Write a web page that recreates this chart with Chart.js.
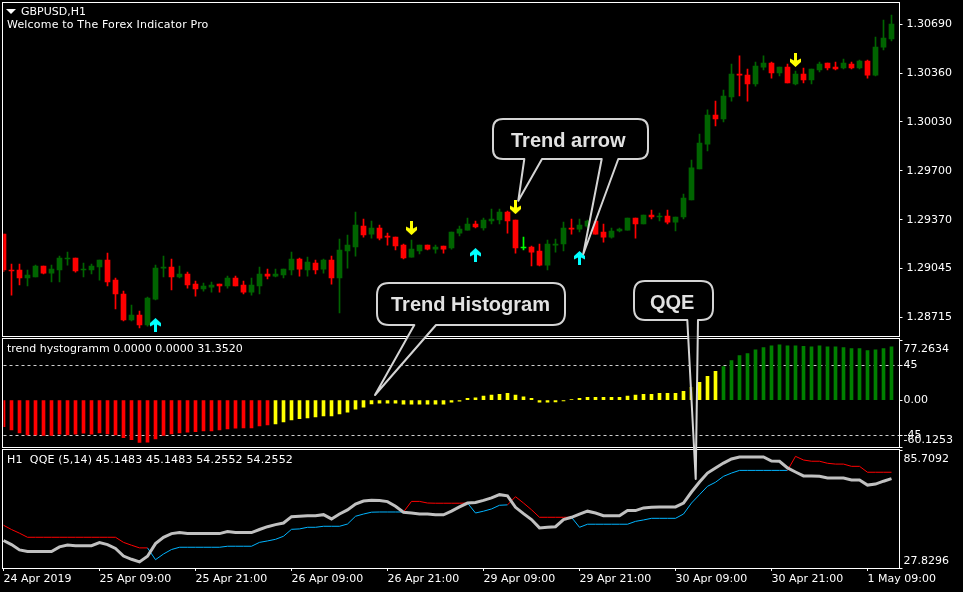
<!DOCTYPE html>
<html>
<head>
<meta charset="utf-8">
<title>GBPUSD,H1</title>
<script src="https://cdn.jsdelivr.net/npm/chart.js@4"></script>
<style>
html, body { margin: 0; padding: 0; background: #000; overflow: hidden; }
#page { position: relative; width: 963px; height: 592px; background: #000; }
canvas { position: absolute; left: 0; }
.paneText { position: absolute; color: #fff; font: 11px "DejaVu Sans", sans-serif; white-space: pre; line-height: 14px; }
#dropMark { position: absolute; left: 6px; top: 9px; width: 0; height: 0; border-left: 5px solid transparent; border-right: 5px solid transparent; border-top: 5px solid #fff; }
svg { position: absolute; left: 0; top: 0; }
svg path { fill: rgba(0, 0, 0, 0.8); stroke: #d4d4d4; stroke-width: 2; stroke-linejoin: round; }
svg text { fill: #e2e2e2; font: bold 20px "Liberation Sans", sans-serif; }
</style>
</head>
<body>
<div id="page">
  <canvas id="priceChart" width="963" height="338" style="top:0"></canvas>
  <canvas id="trendChart" width="963" height="110" style="top:338px"></canvas>
  <canvas id="qqeChart" width="963" height="144" style="top:448px"></canvas>

  <div id="dropMark"></div>
  <div class="paneText" style="left:21px;top:5px">GBPUSD,H1</div>
  <div class="paneText" style="left:7px;top:18px;letter-spacing:0.18px">Welcome to The Forex Indicator Pro</div>
  <div class="paneText" style="left:7px;top:342px">trend hystogramm 0.0000 0.0000 31.3520</div>
  <div class="paneText" style="left:7px;top:453px;letter-spacing:0.15px">H1  QQE (5,14) 45.1483 45.1483 54.2552 54.2552</div>

  <svg width="963" height="592">
    <path d="M503,119 H638 Q648,119 648,129 V149 Q648,159 638,159 H618.3 L583.3,254 L601.7,159 H542 L518.3,200.7 L524.3,159 H503 Q493,159 493,149 V129 Q493,119 503,119 Z"/>
    <text x="511" y="147">Trend arrow</text>
    <path d="M389,283 H553 Q565,283 565,295 V313 Q565,325 553,325 H436 L375,395 L414.3,325 H389 Q377,325 377,313 V295 Q377,283 389,283 Z"/>
    <text x="391" y="311">Trend Histogram</text>
    <path d="M645,281 H701 Q713,281 713,293 V308 Q713,320 701,320 H698 L695.7,479 L687.3,320 H645 Q634,320 634,308 V293 Q634,281 645,281 Z"/>
    <text x="650" y="309">QQE</text>
  </svg>
</div>

<script>
const timeTicks = ['24 Apr 2019', '25 Apr 09:00', '25 Apr 21:00', '26 Apr 09:00', '26 Apr 21:00',
    '29 Apr 09:00', '29 Apr 21:00', '30 Apr 09:00', '30 Apr 21:00', '1 May 09:00'];
const barsPerTick = 12;
const slotCount = 113;

const opens = [
    1.29274,1.29032,1.29032,1.28978,1.28985,1.29059,1.29011,1.29032,1.29106,1.29113,
    1.29032,1.29032,1.29052,1.29099,1.28964,1.28870,1.28695,1.28728,1.28661,1.28836,
    1.29045,1.29052,1.28985,1.29005,1.28937,1.28904,1.28917,1.28937,1.28924,1.28978,
    1.28931,1.28883,1.28924,1.29005,1.28991,1.28998,1.29032,1.29106,1.29032,1.29079,
    1.29038,1.29099,1.28978,1.29160,1.29187,1.29328,1.29274,1.29315,1.29261,1.29254,
    1.29200,1.29119,1.29160,1.29200,1.29173,1.29194,1.29180,1.29281,1.29301,1.29342,
    1.29315,1.29362,1.29369,1.29423,1.29369,1.29180,1.29187,1.29160,1.29065,1.29200,
    1.29207,1.29315,1.29308,1.29328,1.29362,1.29288,1.29254,1.29295,1.29301,1.29382,
    1.29342,1.29403,1.29389,1.29396,1.29355,1.29389,1.29504,1.29713,1.29881,1.30077,
    1.30050,1.30198,1.30353,1.30346,1.30286,1.30400,1.30427,1.30360,1.30400,1.30286,
    1.30353,1.30313,1.30380,1.30427,1.30400,1.30394,1.30421,1.30394,1.30441,1.30346,
    1.30535,1.30589];
const highs = [
    1.29274,1.29072,1.29072,1.29032,1.29065,1.29059,1.29065,1.29126,1.29153,1.29113,
    1.29079,1.29072,1.29099,1.29146,1.28978,1.28890,1.28796,1.28755,1.28850,1.29065,
    1.29126,1.29106,1.29059,1.29018,1.28958,1.28944,1.28951,1.28937,1.28991,1.28991,
    1.28958,1.28978,1.29052,1.29038,1.29038,1.29038,1.29153,1.29113,1.29119,1.29099,
    1.29106,1.29126,1.29241,1.29268,1.29423,1.29376,1.29362,1.29335,1.29281,1.29254,
    1.29207,1.29234,1.29200,1.29200,1.29200,1.29194,1.29288,1.29328,1.29382,1.29362,
    1.29382,1.29443,1.29443,1.29429,1.29369,1.29254,1.29194,1.29207,1.29234,1.29241,
    1.29355,1.29376,1.29376,1.29369,1.29362,1.29342,1.29315,1.29315,1.29382,1.29382,
    1.29403,1.29436,1.29416,1.29436,1.29389,1.29544,1.29773,1.29949,1.30111,1.30171,
    1.30245,1.30421,1.30475,1.30387,1.30434,1.30475,1.30434,1.30400,1.30421,1.30373,
    1.30394,1.30387,1.30434,1.30427,1.30434,1.30454,1.30434,1.30448,1.30448,1.30603,
    1.30717,1.30751];
const lows = [
    1.29020,1.28863,1.28931,1.28924,1.28985,1.29005,1.28951,1.28951,1.29065,1.29018,
    1.28985,1.29005,1.28964,1.28924,1.28769,1.28688,1.28688,1.28641,1.28654,1.28830,
    1.28985,1.28897,1.28978,1.28910,1.28856,1.28890,1.28883,1.28883,1.28910,1.28924,
    1.28870,1.28863,1.28870,1.28971,1.28985,1.28978,1.28998,1.28991,1.28991,1.29005,
    1.29011,1.28937,1.28742,1.29045,1.29126,1.29254,1.29247,1.29234,1.29200,1.29167,
    1.29106,1.29119,1.29140,1.29167,1.29146,1.29146,1.29173,1.29261,1.29301,1.29315,
    1.29301,1.29342,1.29342,1.29281,1.29146,1.29167,1.29059,1.29059,1.29032,1.29153,
    1.29160,1.29274,1.29288,1.29315,1.29274,1.29220,1.29247,1.29288,1.29301,1.29247,
    1.29342,1.29376,1.29362,1.29342,1.29295,1.29376,1.29504,1.29713,1.29834,1.30003,
    1.30030,1.30171,1.30205,1.30171,1.30272,1.30380,1.30326,1.30340,1.30293,1.30279,
    1.30293,1.30286,1.30367,1.30380,1.30380,1.30387,1.30387,1.30387,1.30326,1.30340,
    1.30515,1.30576];
const closes = [
    1.29032,1.29025,1.28978,1.28998,1.29059,1.29011,1.29038,1.29113,1.29113,1.29025,
    1.29038,1.29059,1.29099,1.28951,1.28870,1.28695,1.28728,1.28661,1.28843,1.29045,
    1.29052,1.28985,1.29005,1.28931,1.28904,1.28924,1.28931,1.28924,1.28978,1.28924,
    1.28883,1.28931,1.29005,1.28991,1.29005,1.29038,1.29106,1.29038,1.29086,1.29032,
    1.29099,1.28978,1.29167,1.29200,1.29335,1.29268,1.29315,1.29247,1.29254,1.29194,
    1.29113,1.29173,1.29200,1.29173,1.29187,1.29173,1.29288,1.29308,1.29342,1.29322,
    1.29369,1.29376,1.29423,1.29362,1.29180,1.29187,1.29153,1.29065,1.29207,1.29207,
    1.29315,1.29308,1.29335,1.29362,1.29274,1.29254,1.29295,1.29308,1.29382,1.29342,
    1.29403,1.29389,1.29396,1.29355,1.29389,1.29517,1.29720,1.29888,1.30077,1.30050,
    1.30205,1.30353,1.30346,1.30286,1.30407,1.30427,1.30360,1.30400,1.30293,1.30353,
    1.30313,1.30387,1.30421,1.30394,1.30387,1.30427,1.30394,1.30441,1.30346,1.30535,
    1.30596,1.30690];
const limeBars = [65];

const arrowUpBars = [19, 59, 72];
const arrowUpPrices = [1.28661, 1.29133, 1.29113];
const arrowDownBars = [51, 64, 99];
const arrowDownPrices = [1.29315, 1.29456, 1.30448];

const priceTicks = [1.30690, 1.30360, 1.30030, 1.29700, 1.29370, 1.29045, 1.28715];
const priceMin = 1.28587;
const priceMax = 1.30832;

// histogram runs, red then yellow then green
const trendRed = [-33.9,-38.1,-41.9,-44.5,-44.5,-45.3,-45.3,-43.6,-44.5,-43.6,-42.4,-43.6,-41.9,-43.2,-44.5,-48.3,-50.8,
    -54.2,-53.8,-49.6,-45.3,-43.2,-41.9,-41.1,-40.3,-39.4,-39.4,-38.1,-36.9,-36.0,-35.6,-35.6,-33.1,-31.8];
const trendYellow = [-30.5,-28.0,-25.4,-23.7,-22.9,-21.6,-20.3,-20.3,-17.8,-15.3,-11.4,-8.9,-4.7,-3.8,-3.8,-3.8,-5.1,-5.1,-5.1,
    -5.1,-5.1,-5.1,-2.5,-1.3,2.5,3.0,5.1,6.4,7.6,8.9,6.4,4.2,2.5,-2.5,-2.5,-2.1,-1.0,0.8,2.5,3.8,3.8,3.8,3.8,3.8,5.1,6.4,7.6,7.6,
    8.9,8.9,8.9,11.4,16.5,22.9,30.5,36.9];
const trendGreen = [43.2,50.8,57.2,59.7,64.8,67.4,69.9,71.2,69.9,69.9,69.1,68.6,69.9,68.6,68.6,67.4,66.1,66.1,63.6,64.8,66.1,68.6];
const trendLevels = [45, -45];
const trendTicks = [77.2634, 45, 0, -45, -60.1253];
const trendTickLabels = [['', '77.2634'], '45', '0.00', '-45', ['-60.1253', '']];

const qqeFast = [41.3,39.3,36.7,35.9,35.9,35.9,35.9,38.2,39.1,38.8,38.8,38.8,40.3,39.3,37.4,33.7,32.1,30.8,33.6,39.8,
    42.9,44.7,45.2,44.7,44.7,44.7,44.7,44.7,45.7,45.2,45.2,45.2,46.7,48.1,49.1,49.9,53.0,53.2,53.4,53.5,
    54.0,51.9,54.3,56.3,59.2,60.7,61.0,60.9,60.4,58.1,55.2,54.8,54.3,54.3,54.0,53.9,55.7,57.8,59.7,60.0,
    61.0,62.2,63.8,63.2,57.6,54.5,51.6,47.5,47.8,48.1,51.6,52.7,54.3,55.7,54.8,53.5,53.4,53.4,56.0,56.0,
    57.3,57.6,57.8,57.8,57.8,59.7,65.1,70.0,74.4,76.9,79.3,81.3,82.3,82.3,82.3,82.3,80.3,80.2,76.9,74.9,
    73.0,73.0,72.8,72.0,72.0,72.0,71.0,71.0,68.5,69.0,70.4,71.7];
const qqeSlow = [48.8,46.7,44.9,42.9,42.9,42.9,42.9,42.9,42.9,42.9,42.9,42.9,42.9,42.9,42.9,40.4,39.0,37.7,37.7,31.9,
    34.7,36.9,38.0,38.0,38.0,38.0,38.0,38.0,38.5,38.5,38.5,38.5,40.4,41.1,41.9,43.4,46.8,47.0,47.8,47.8,
    48.3,48.3,48.3,49.4,53.2,54.3,55.2,55.3,55.3,55.3,55.3,60.5,60.5,59.7,59.6,59.6,59.6,59.6,59.7,54.8,
    55.7,56.8,58.6,58.8,62.8,59.7,56.4,52.7,52.7,52.7,52.7,52.7,47.8,49.3,49.3,49.3,49.3,49.3,49.3,50.7,
    51.4,52.2,52.2,52.2,52.2,54.3,59.7,63.8,67.9,69.9,72.8,74.4,75.7,75.7,75.7,75.7,75.7,75.7,75.7,82.6,
    80.8,80.2,80.2,79.2,78.8,78.8,77.7,77.7,74.8,74.8,74.8,74.8];
const qqeRedSpans = [[0, 18], [50, 58], [63, 71], [98, 111]];
const qqeTicks = [85.7092, 27.8296];
const qqeTickLabels = [['', '85.7092'], ['27.8296', '']];

const fontFamily = '"DejaVu Sans", sans-serif';
const barLabels = Array.from({ length: slotCount }, (_, i) => i % barsPerTick === 0 ? timeTicks[i / barsPerTick] : '');


function sparseSeries(bars, values) {
    return barLabels.map((_, i) => {
        const at = bars.indexOf(i);
        return at < 0 ? null : values[at];
    });
}


function arrowImage(color, pointsDown) {
    const c = document.createElement('canvas');
    c.width = 11;
    c.height = 14;
    const ctx = c.getContext('2d');
    if (pointsDown) {
        ctx.translate(0, 14);
        ctx.scale(1, -1);
    }
    ctx.fillStyle = color;
    ctx.beginPath();
    [[5.5, 0], [11, 5], [11, 8.5], [7, 6.5], [7, 14], [4, 14], [4, 6.5], [0, 8.5], [0, 5]].forEach(p => ctx.lineTo(p[0], p[1]));
    ctx.closePath();
    ctx.fill();
    return c;
}


// white frame round each pane
const paneFrame = {
    id: 'paneFrame',
    afterDraw(chart, args, opts) {
        const a = chart.chartArea;
        const ctx = chart.ctx;
        ctx.save();
        ctx.strokeStyle = '#fff';
        ctx.lineWidth = 1;
        ctx.strokeRect(2.5, opts.top, 897, a.bottom + 0.5 - opts.top);
        ctx.restore();
    }
};


function yAxis(ticks, labels, min, max, labelGap) {
    return {
        position: 'right',
        min: min,
        max: max,
        afterFit: scale => {
            // labels may hang past the pane, no extra room for them
            scale.width = 63.5;
            scale.paddingTop = 0;
            scale.paddingBottom = 0;
        },
        afterBuildTicks: scale => { scale.ticks = ticks.map(v => ({ value: v })); },
        border: { display: false, dash: [3, 3] },
        grid: {
            drawOnChartArea: ticks === trendTicks,
            color: ctx => ctx.tick && trendLevels.includes(ctx.tick.value) ? '#cfcfcf' : 'transparent',
            tickColor: '#fff',
            tickLength: 3
        },
        ticks: {
            autoSkip: false,
            color: '#fff',
            padding: labelGap,
            // two line labels sit half a line off their tick, top one needs a bit more
            font: ctx => ({ family: fontFamily, size: 11, lineHeight: ctx.index === 0 ? 1.7 : 1.2 }),
            callback: (value, i) => labels ? labels[i] : value.toFixed(5)
        }
    };
}


function xAxis(showLabels) {
    const axis = {
        type: 'category',
        offset: false,
        display: showLabels,
        grid: { display: false }
    };
    if (showLabels) {
        axis.afterBuildTicks = scale => { scale.ticks = scale.ticks.filter(t => t.value % barsPerTick === 0); };
        axis.afterFit = scale => { scale.height = 24; };
        axis.border = { display: false };
        axis.grid = { display: true, drawOnChartArea: false, color: '#fff', tickColor: '#fff', tickLength: 3 };
        axis.ticks = {
            autoSkip: false,
            maxRotation: 0,
            align: 'start',
            color: '#fff',
            padding: 2,
            font: { family: fontFamily, size: 11 }
        };
    }
    return axis;
}


function baseOptions(padTop, padBottom, frameTop, yScale, showLabels) {
    return {
        responsive: false,
        animation: false,
        devicePixelRatio: 1,
        layout: { autoPadding: false, padding: { left: 3.5, right: 0, top: padTop, bottom: padBottom } },
        plugins: {
            legend: { display: false },
            tooltip: { enabled: false },
            paneFrame: { top: frameTop }
        },
        scales: { x: xAxis(showLabels), y: yScale }
    };
}


function drawPriceChart() {
    const candleColor = opens.map((o, i) => limeBars.includes(i) ? '#00ff00' : (closes[i] >= o ? '#006400' : '#ff0000'));
    new Chart(document.getElementById('priceChart'), {
        data: {
            labels: barLabels,
            datasets: [
                {
                    type: 'line', showLine: false, order: 0,
                    data: sparseSeries(arrowUpBars, arrowUpPrices),
                    pointStyle: arrowImage('#00ffff', false)
                },
                {
                    type: 'line', showLine: false, order: 0,
                    data: sparseSeries(arrowDownBars, arrowDownPrices),
                    pointStyle: arrowImage('#ffff00', true)
                },
                {
                    type: 'bar', order: 1, grouped: false, barThickness: 5, minBarLength: 1,
                    data: opens.map((o, i) => [o, closes[i]]),
                    backgroundColor: candleColor
                },
                {
                    type: 'bar', order: 2, grouped: false, barThickness: 1,
                    data: lows.map((l, i) => [l, highs[i]]),
                    backgroundColor: candleColor
                }
            ]
        },
        options: baseOptions(3, 2, 2.5, yAxis(priceTicks, null, priceMin, priceMax, 4), false),
        plugins: [paneFrame]
    });
}


function drawTrendChart() {
    const gapBefore = n => Array(n).fill(null);
    new Chart(document.getElementById('trendChart'), {
        type: 'bar',
        data: {
            labels: barLabels,
            datasets: [
                { grouped: false, barThickness: 3, backgroundColor: '#ff0000', data: trendRed },
                { grouped: false, barThickness: 3, backgroundColor: '#ffff00', data: gapBefore(trendRed.length).concat(trendYellow) },
                { grouped: false, barThickness: 3, backgroundColor: '#008000', data: gapBefore(trendRed.length + trendYellow.length).concat(trendGreen) }
            ]
        },
        options: baseOptions(2, 1, 0.5, yAxis(trendTicks, trendTickLabels, -60.1253, 77.2634, 1), false),
        plugins: [paneFrame]
    });
}


function drawQqeChart() {
    const isRed = i => qqeRedSpans.some(s => i >= s[0] && i < s[1]);
    new Chart(document.getElementById('qqeChart'), {
        type: 'line',
        data: {
            labels: barLabels,
            datasets: [
                {
                    data: qqeFast, order: 0, borderColor: '#c0c0c0', borderWidth: 3, pointRadius: 0, tension: 0
                },
                {
                    data: qqeSlow, order: 1, borderColor: '#00b4ff', borderWidth: 1, pointRadius: 0, tension: 0,
                    segment: { borderColor: ctx => isRed(ctx.p0DataIndex) ? '#ff0000' : '#00b4ff' }
                }
            ]
        },
        options: baseOptions(2, 0, 1.5, yAxis(qqeTicks, qqeTickLabels, 27.8296, 85.7092, 1), true),
        plugins: [paneFrame]
    });
}


drawPriceChart();
drawTrendChart();
drawQqeChart();
</script>
</body>
</html>
